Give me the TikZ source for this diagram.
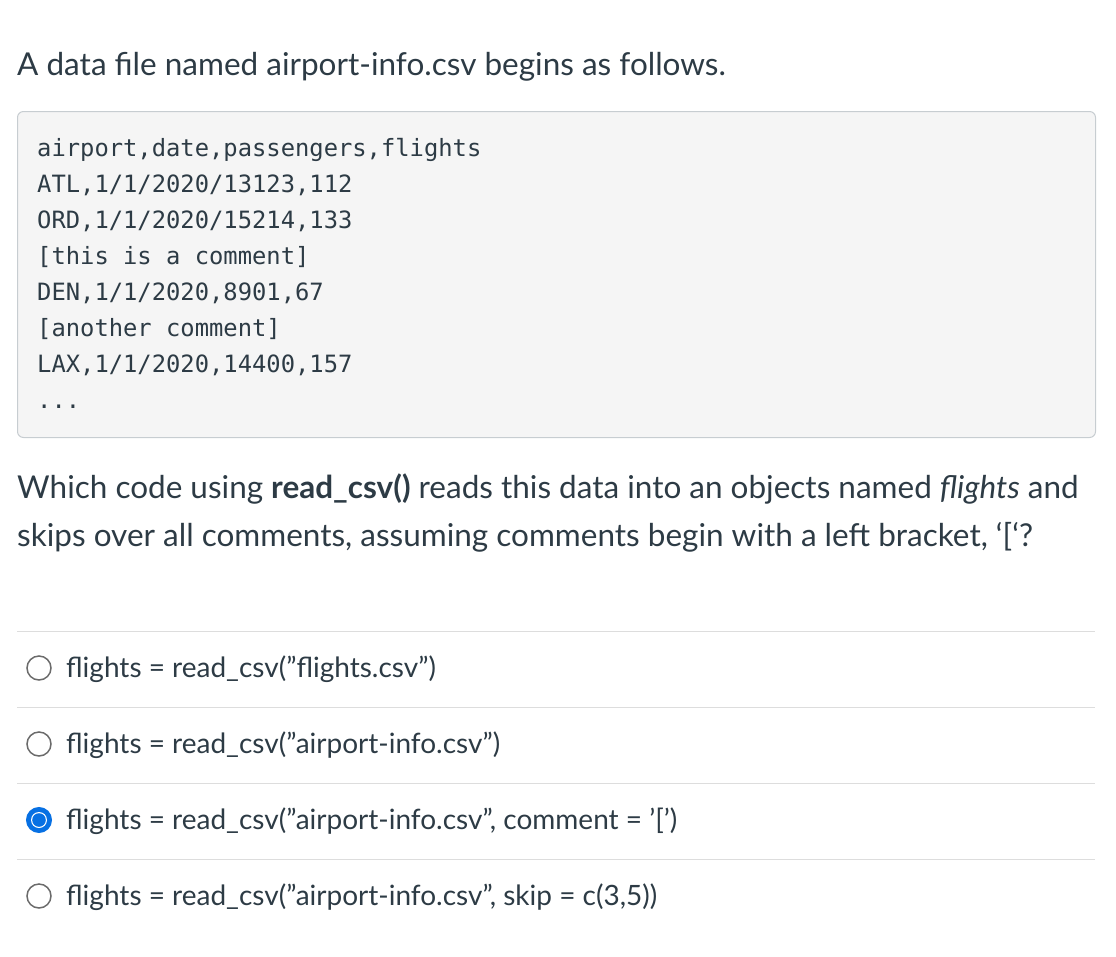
\documentclass[tikz,border=0pt]{standalone}
\usepackage{fontspec}
\setmainfont{Lato}
\setmonofont{DejaVu Sans Mono}
\newcommand{\dq}{\symbol{"22}}
\newcommand{\sq}{\symbol{"27}}
\newcommand{\bq}{\symbol{"60}}
\definecolor{txt}{HTML}{2D3B45}
\definecolor{codebg}{HTML}{F5F5F5}
\definecolor{codebd}{HTML}{C7CDD1}
\definecolor{sep}{HTML}{DDDDDD}
\definecolor{radio}{HTML}{6B6B6B}
\definecolor{sel}{HTML}{0770E3}
\begin{document}
\begin{tikzpicture}[x=1pt,y=-1pt,
  prose/.style={anchor=base west,inner sep=0pt,text=txt,font=\fontsize{31.5}{36}\selectfont},
  code/.style={anchor=base west,inner sep=0pt,text=txt,font=\ttfamily\fontsize{23.8}{28}\selectfont},
  opt/.style={anchor=base west,inner sep=0pt,text=txt,font=\fontsize{28}{32}\selectfont},
  rad/.style={circle,draw=radio,line width=1.5pt,minimum size=24pt,inner sep=0pt}]
\useasboundingbox (0,0) rectangle (1116,956);
\node[prose] (t1) at (17,75) {A data file named airport-info.csv begins as follows.};
\node[draw=codebd,fill=codebg,line width=1pt,rounded corners=6pt,minimum width=1078pt,minimum height=326pt,anchor=north west] (box) at (17,111) {};
\node[code] (c1) at (37,156) {airport,date,passengers,flights};
\node[code] (c2) at (37,192) {ATL,1/1/2020/13123,112};
\node[code] (c3) at (37,228) {ORD,1/1/2020/15214,133};
\node[code] (c4) at (37,264) {[this is a comment]};
\node[code] (c5) at (37,300) {DEN,1/1/2020,8901,67};
\node[code] (c6) at (37,336) {[another comment]};
\node[code] (c7) at (37,372) {LAX,1/1/2020,14400,157};
\node[code] (c8) at (37,408) {...};
\node[prose] (q1) at (17,498) {Which code using \textbf{read\_csv()} reads this data into an objects named \textit{flights} and};
\node[prose] (q2) at (17,546) {skips over all comments, assuming comments begin with a left bracket, \bq[\bq?};
\draw[sep,line width=1pt] (17,631) -- (1095,631);
\draw[sep,line width=1pt] (17,707) -- (1095,707);
\draw[sep,line width=1pt] (17,783) -- (1095,783);
\draw[sep,line width=1pt] (17,859) -- (1095,859);
\node[rad] (r1) at (39,668) {};
\node[rad] (r2) at (39,744) {};
\node[rad,draw=sel,fill=sel,line width=2pt] (r3) at (39,820) {};
\fill[white] (r3.center) circle (8pt);
\fill[sel] (r3.center) circle (6.8pt);
\node[rad] (r4) at (39,896) {};
\node[opt] (o1) at (66,677) {flights = read\_csv(\dq flights.csv\dq)};
\node[opt] (o2) at (66,753) {flights = read\_csv(\dq airport-info.csv\dq)};
\node[opt] (o3) at (66,829) {flights = read\_csv(\dq airport-info.csv\dq, comment = \sq[\sq)};
\node[opt] (o4) at (66,905) {flights = read\_csv(\dq airport-info.csv\dq, skip = c(3,5))};
\end{tikzpicture}
\end{document}
